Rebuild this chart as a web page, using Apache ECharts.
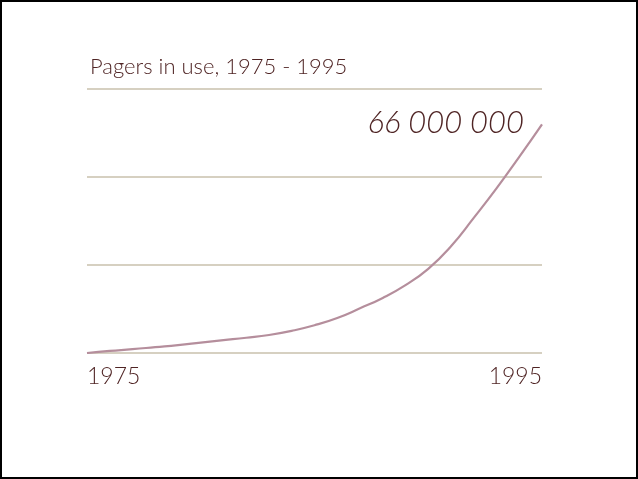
<!DOCTYPE html>
<html>
<head>
<meta charset="utf-8">
<script src="https://cdn.jsdelivr.net/npm/echarts@6/dist/echarts.min.js"></script>
<style>
html,body{margin:0;padding:0;background:#fff;}
#frame{position:absolute;left:0;top:0;width:634px;height:475px;border:2px solid #000;}
#chart{position:absolute;left:0;top:0;width:638px;height:479px;}
</style>
</head>
<body>
<div id="chart"></div>
<div id="frame"></div>
<script>
const years = ['1975','1976','1977','1978','1979','1980','1981','1982','1983','1984','1985','1986','1987','1988','1989','1990','1991','1992','1993','1994','1995'];
const pagers = [0, 0.6e6, 1.1e6, 1.7e6, 2.3e6, 3.0e6, 3.7e6, 4.4e6, 5.2e6, 6.4e6, 8.0e6, 10.1e6, 12.9e6, 15.9e6, 19.6e6, 24.3e6, 30.8e6, 39.0e6, 47.5e6, 56.6e6, 66.0e6];
const shownTicks = ['1975','1995'];
const titleText = 'Pagers in use, 1975 - 1995';
const endLabel = '66 000 000';

const textColor = '#4f2424';
const chart = echarts.init(document.getElementById('chart'));
chart.setOption({
  backgroundColor: '#ffffff',
  animation: false,
  title: {
    text: titleText,
    left: 85, top: 51,
    textStyle: {fontFamily: 'Lato', fontWeight: 300, fontSize: 22, color: textColor}
  },
  grid: {left: 87, right: 96, top: 89, bottom: 126},
  xAxis: {
    type: 'category',
    data: years,
    boundaryGap: false,
    axisLine: {show: false},
    axisTick: {show: false},
    splitLine: {show: false},
    axisLabel: {
      interval: 0,
      formatter: v => shownTicks.includes(v) ? v : '',
      alignMinLabel: 'left',
      alignMaxLabel: 'right',
      margin: 12,
      fontFamily: 'Lato', fontWeight: 300, fontSize: 23, color: textColor
    }
  },
  yAxis: {
    type: 'value',
    min: 0, max: 76.2e6, interval: 25.4e6,
    axisLabel: {show: false},
    axisLine: {show: false},
    axisTick: {show: false},
    splitLine: {show: true, lineStyle: {color: '#c9c0ad', width: 1.5}}
  },
  series: [{
    type: 'line',
    data: pagers,
    smooth: 0.5,
    symbol: 'none',
    lineStyle: {color: '#b58e9c', width: 2.2},
    z: 3
  }],
  graphic: [{
    type: 'text',
    right: 114, top: 107,
    style: {text: endLabel, fontFamily: 'Lato', fontWeight: 300, fontStyle: 'italic', fontSize: 31, fill: textColor}
  }]
});
</script>
</body>
</html>
